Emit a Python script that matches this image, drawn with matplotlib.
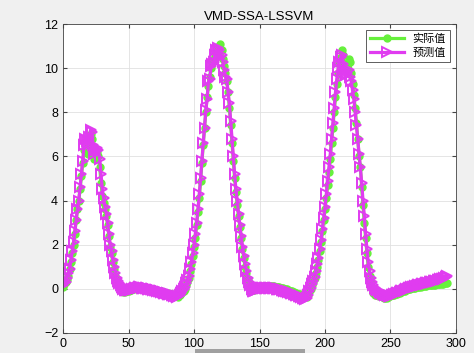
import numpy as np
import matplotlib
matplotlib.use("Agg")
import matplotlib.pyplot as plt
from matplotlib.patches import Rectangle

plt.rcParams['font.family'] = ['Liberation Sans', 'Noto Sans CJK SC', 'DejaVu Sans']

title = "VMD-SSA-LSSVM"
labels = ["实际值", "预测值"]

# 实际值
actual = [
    0.1, 0.2, 0.3, 0.4, 0.6, 0.9, 1.2, 1.6, 2.0, 2.5,
    3.1, 3.6, 4.0, 4.5, 5.1, 5.7, 6.3, 6.6, 6.4, 6.1,
    6.6, 7.0, 6.8, 6.2, 5.9, 6.1, 6.2, 6.0, 5.5, 4.8,
    4.2, 3.9, 3.6, 3.3, 2.9, 2.4, 1.9, 1.6, 1.2, 0.9,
    0.6, 0.45, 0.3, 0.2, 0.1, 0.0, -0.15, -0.15, -0.1, -0.1,
    -0.1, -0.05, -0.05, 0.0, 0.0, 0.02, 0.05, 0.05, 0.08, 0.08,
    0.05, 0.05, 0.05, 0.03, 0.02, 0.0, 0.0, 0.0, -0.02, -0.03,
    -0.05, -0.05, -0.08, -0.1, -0.1, -0.12, -0.15, -0.15, -0.18, -0.2,
    -0.2, -0.22, -0.25, -0.25, -0.28, -0.3, -0.3, -0.35, -0.38, -0.3,
    -0.2, -0.15, -0.1, 0.0, 0.15, 0.3, 0.5, 0.8, 1.1, 1.5,
    1.9, 2.3, 2.9, 3.5, 4.1, 4.9, 5.7, 6.5, 7.3, 8.0,
    8.7, 9.2, 9.6, 10.0, 10.3, 10.4, 10.5, 10.7, 10.9, 11.0,
    11.1, 10.8, 10.4, 10.1, 9.8, 9.4, 8.9, 8.2, 7.4, 6.6,
    5.8, 5.0, 4.4, 3.8, 3.3, 2.8, 2.3, 1.8, 1.4, 1.0,
    0.7, 0.45, 0.25, 0.1, 0.0, -0.05, -0.05, 0.0, 0.05, 0.05,
    0.08, 0.1, 0.1, 0.12, 0.12, 0.12, 0.1, 0.1, 0.12, 0.12,
    0.12, 0.12, 0.1, 0.1, 0.08, 0.08, 0.05, 0.05, 0.02, 0.0,
    0.0, -0.02, -0.05, -0.08, -0.1, -0.12, -0.15, -0.18, -0.2, -0.22,
    -0.25, -0.25, -0.28, -0.3, -0.32, -0.35, -0.38, -0.3, -0.15, 0.0,
    0.15, 0.3, 0.5, 0.7, 1.0, 1.3, 1.7, 2.1, 2.6, 3.1,
    3.6, 4.1, 4.7, 5.3, 5.9, 6.6, 7.3, 8.0, 8.7, 9.3,
    9.8, 10.2, 10.5, 10.8, 10.6, 10.2, 10.0, 10.2, 10.4, 10.3,
    9.8, 9.3, 8.8, 8.2, 7.5, 6.8, 6.0, 5.5, 4.6, 3.8,
    3.0, 2.3, 1.6, 1.0, 0.6, 0.3, 0.0, -0.2, -0.3, -0.3,
    -0.3, -0.32, -0.35, -0.35, -0.38, -0.4, -0.4, -0.4, -0.38, -0.35,
    -0.35, -0.3, -0.3, -0.28, -0.25, -0.22, -0.2, -0.18, -0.15, -0.12,
    -0.1, -0.08, -0.05, -0.03, 0.0, 0.0, 0.02, 0.03, 0.05, 0.05,
    0.07, 0.08, 0.1, 0.1, 0.12, 0.12, 0.13, 0.14, 0.15, 0.15,
    0.16, 0.17, 0.18, 0.18, 0.19, 0.2, 0.2, 0.2, 0.22, 0.22,
    0.23, 0.25, 0.25, 0.27,
]

# 预测值
predicted = [
    0.15, 0.25, 0.3, 0.5, 0.7, 0.9, 1.3, 1.7, 2.1, 2.6,
    3.1, 3.6, 4.0, 4.6, 5.2, 5.8, 6.5, 6.8, 6.7, 6.5,
    6.9, 7.2, 7.1, 6.5, 6.1, 6.3, 6.4, 6.3, 5.9, 5.2,
    4.5, 4.1, 3.7, 3.4, 3.0, 2.5, 2.0, 1.7, 1.3, 1.0,
    0.7, 0.5, 0.35, 0.25, 0.15, 0.1, 0.0, -0.05, -0.05, -0.05,
    -0.05, -0.05, -0.05, 0.0, 0.0, 0.02, 0.05, 0.05, 0.06, 0.06,
    0.05, 0.05, 0.04, 0.03, 0.02, 0.0, 0.0, -0.02, -0.03, -0.05,
    -0.05, -0.07, -0.08, -0.1, -0.12, -0.13, -0.15, -0.17, -0.2, -0.2,
    -0.22, -0.24, -0.25, -0.28, -0.3, -0.32, -0.33, -0.37, -0.35, -0.28,
    -0.2, -0.1, 0.0, 0.1, 0.25, 0.4, 0.6, 0.9, 1.2, 1.6,
    2.0, 2.5, 3.0, 3.6, 4.3, 5.0, 5.8, 6.6, 7.3, 8.1,
    8.6, 9.4, 9.5, 10.1, 10.2, 10.3, 10.6, 10.8, 10.9, 10.8,
    10.5, 10.6, 10.3, 9.9, 9.6, 9.5, 8.9, 8.4, 7.6, 6.8,
    6.0, 5.2, 4.5, 4.0, 3.4, 2.9, 2.4, 1.9, 1.5, 1.1,
    0.8, 0.5, 0.3, 0.15, 0.0, -0.1, -0.1, -0.05, 0.0, 0.0,
    0.02, 0.03, 0.05, 0.05, 0.05, 0.05, 0.03, 0.03, 0.05, 0.05,
    0.04, 0.03, 0.02, 0.0, 0.0, -0.02, -0.03, -0.05, -0.07, -0.08,
    -0.1, -0.12, -0.14, -0.16, -0.18, -0.2, -0.22, -0.25, -0.28, -0.3,
    -0.33, -0.35, -0.38, -0.4, -0.42, -0.45, -0.42, -0.3, -0.1, 0.05,
    0.2, 0.35, 0.55, 0.8, 1.1, 1.4, 1.8, 2.2, 2.7, 3.2,
    3.7, 4.3, 4.9, 5.5, 6.1, 6.8, 7.5, 8.2, 8.9, 9.5,
    10.0, 10.3, 10.5, 10.6, 10.2, 9.9, 9.7, 9.8, 9.9, 9.6,
    9.4, 9.0, 8.6, 8.0, 7.4, 6.8, 6.1, 5.5, 4.8, 4.0,
    3.3, 2.5, 1.8, 1.2, 0.8, 0.5, 0.3, 0.15, 0.05, 0.0,
    -0.05, -0.1, -0.15, -0.18, -0.22, -0.25, -0.28, -0.3, -0.3, -0.32,
    -0.32, -0.3, -0.28, -0.25, -0.22, -0.2, -0.17, -0.15, -0.12, -0.1,
    -0.08, -0.05, -0.03, 0.0, 0.02, 0.05, 0.07, 0.08, 0.1, 0.12,
    0.13, 0.15, 0.17, 0.18, 0.2, 0.22, 0.23, 0.25, 0.27, 0.28,
    0.3, 0.31, 0.32, 0.33, 0.35, 0.36, 0.38, 0.4, 0.42, 0.44,
    0.46, 0.5, 0.55, 0.6,
]

x = np.arange(len(actual))
xp = np.arange(len(predicted))

green = "#66f03c"
magenta = "#e03cf0"

fig = plt.figure(figsize=(4.74, 3.53), dpi=100)
fig.patch.set_facecolor("#f0f0f0")
ax = fig.add_axes([0.133, 0.057, 0.829, 0.875])

ax.plot(x, actual, "-o", color=green, lw=2.3, ms=5, mfc=green, mec=green, label=labels[0])
ax.plot(xp, predicted, "->", color=magenta, lw=2.3, ms=6.5, mfc="none", mec=magenta, mew=1.4, label=labels[1])

ax.set_xlim(0, 300)
ax.set_ylim(-2, 12)
ax.set_xticks(np.arange(0, 301, 50))
ax.set_yticks(np.arange(-2, 13, 2))
ax.grid(True, color="#e0e0e0", lw=0.6)
ax.set_axisbelow(True)
ax.tick_params(direction="in", top=True, right=True, labelsize=9, length=3, color="#444444")
for s in ax.spines.values():
    s.set_color("#444444")
    s.set_linewidth(0.6)
ax.set_title(title, fontsize=9.5, pad=3)

leg = ax.legend(loc="upper right", fancybox=False, framealpha=1,
                edgecolor="#444444", handlelength=3, borderpad=0.4,
                labelspacing=0.3, prop={"family": ["Noto Sans CJK SC"], "size": 8})
leg.get_frame().set_linewidth(0.6)

# scrollbar-like strip at the bottom of the window
fig.patches.append(Rectangle((195 / 474, 0), 110 / 474, 4 / 353, transform=fig.transFigure,
                             facecolor="#a0a0a0", edgecolor="none"))

fig.savefig("out.png", dpi=100, facecolor=fig.get_facecolor())
